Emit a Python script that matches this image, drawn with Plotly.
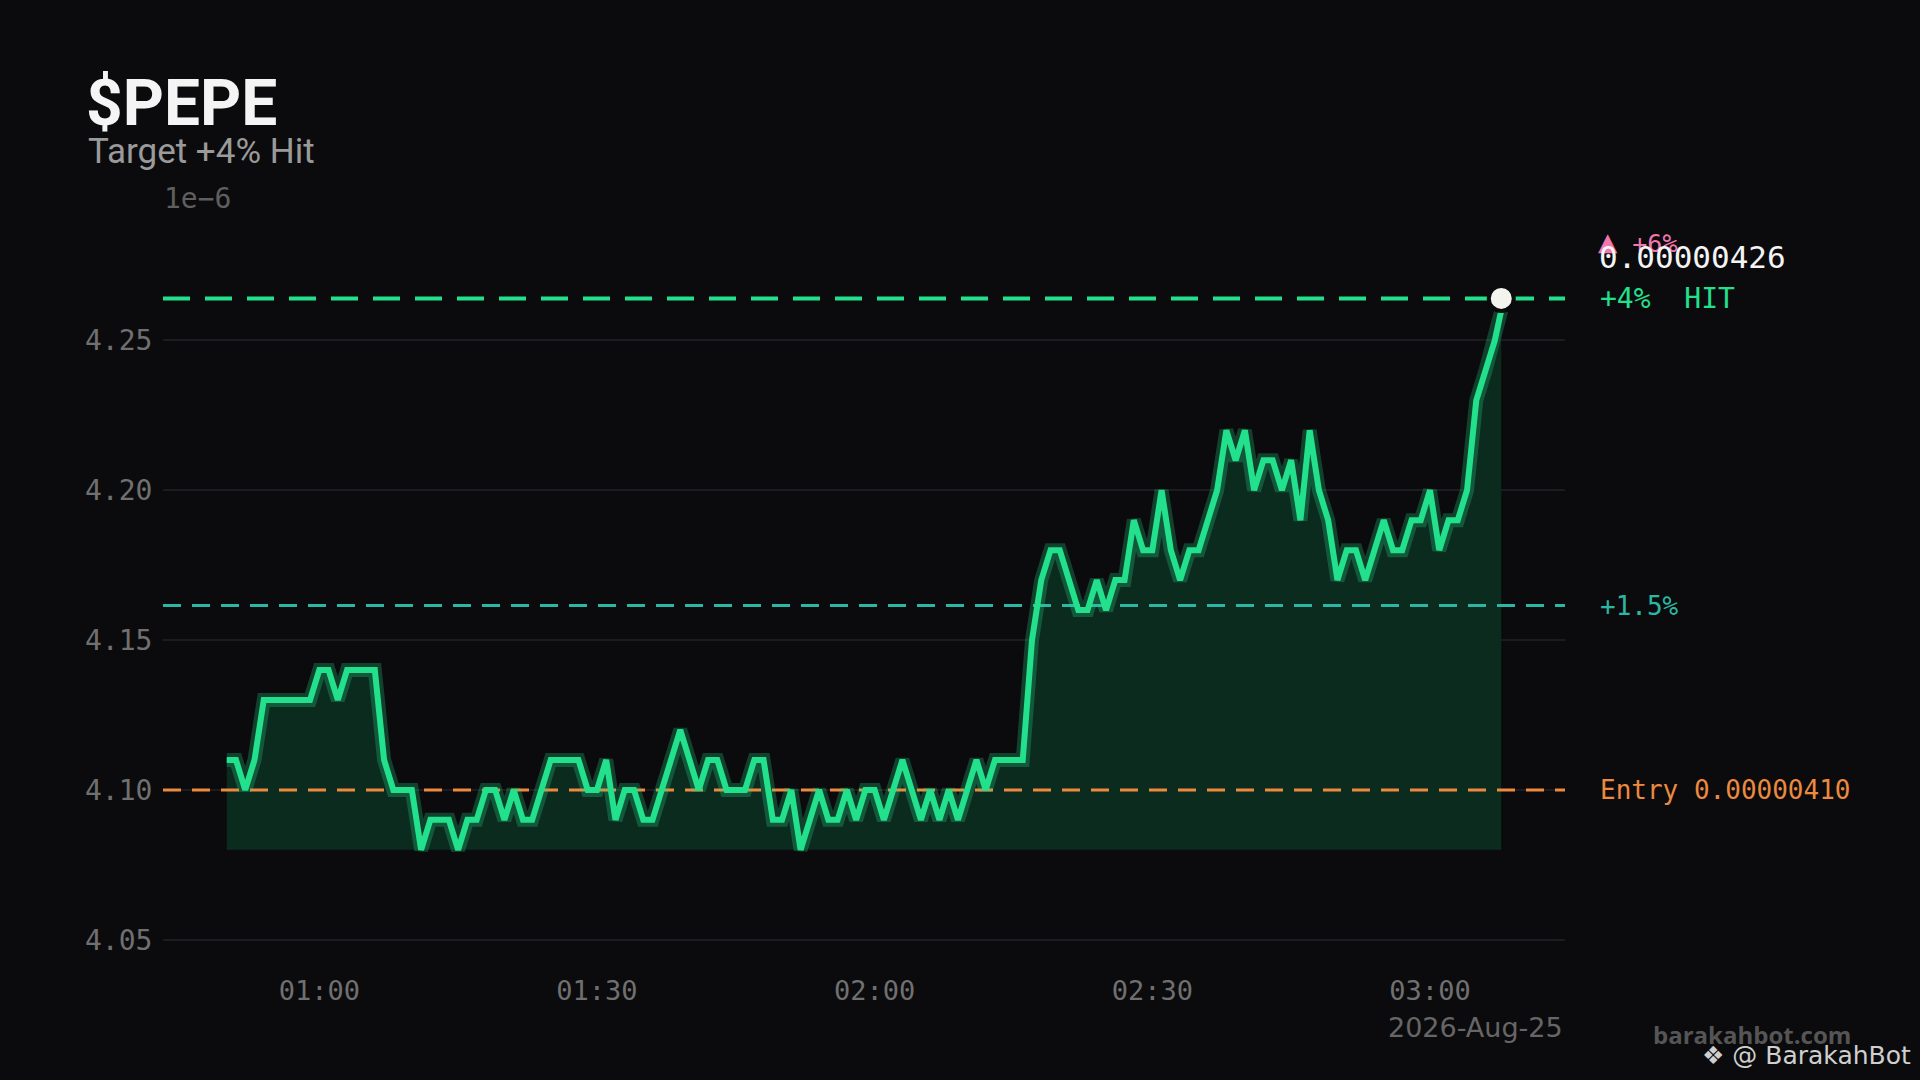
import pandas as pd
import plotly.graph_objects as go

# ---------------- data (prices in units of 1e-6) ----------------
start_time = "2026-08-25 00:50:00"
minute_offsets = list(range(0, 138)) + [137.7]
prices = [
    4.11, 4.11, 4.10, 4.11, 4.13, 4.13, 4.13, 4.13, 4.13, 4.13,
    4.14, 4.14, 4.13, 4.14, 4.14, 4.14, 4.14, 4.11, 4.10, 4.10,
    4.10, 4.08, 4.09, 4.09, 4.09, 4.08, 4.09, 4.09, 4.10, 4.10,
    4.09, 4.10, 4.09, 4.09, 4.10, 4.11, 4.11, 4.11, 4.11, 4.10,
    4.10, 4.11, 4.09, 4.10, 4.10, 4.09, 4.09, 4.10, 4.11, 4.12,
    4.11, 4.10, 4.11, 4.11, 4.10, 4.10, 4.10, 4.11, 4.11, 4.09,
    4.09, 4.10, 4.08, 4.09, 4.10, 4.09, 4.09, 4.10, 4.09, 4.10,
    4.10, 4.09, 4.10, 4.11, 4.10, 4.09, 4.10, 4.09, 4.10, 4.09,
    4.10, 4.11, 4.10, 4.11, 4.11, 4.11, 4.11, 4.15, 4.17, 4.18,
    4.18, 4.17, 4.16, 4.16, 4.17, 4.16, 4.17, 4.17, 4.19, 4.18,
    4.18, 4.20, 4.18, 4.17, 4.18, 4.18, 4.19, 4.20, 4.22, 4.21,
    4.22, 4.20, 4.21, 4.21, 4.20, 4.21, 4.19, 4.22, 4.20, 4.19,
    4.17, 4.18, 4.18, 4.17, 4.18, 4.19, 4.18, 4.18, 4.19, 4.19,
    4.20, 4.18, 4.19, 4.19, 4.20, 4.23, 4.24, 4.25, 4.26,
]
entry_price = 4.10
target_pcts = [1.5, 4.0, 6.0]
ytick_vals = [4.05, 4.10, 4.15, 4.20, 4.25]
ytick_text = ["4.05", "4.10", "4.15", "4.20", "4.25"]
xtick_times = ["2026-08-25 01:00", "2026-08-25 01:30", "2026-08-25 02:00",
               "2026-08-25 02:30", "2026-08-25 03:00"]
xtick_text = ["01:00", "01:30", "02:00", "02:30", "03:00"]
last_price_text = "0.00000426"
entry_text = "0.00000410"

# ---------------- derived ----------------
t0 = pd.Timestamp(start_time)
times = [t0 + pd.Timedelta(minutes=m) for m in minute_offsets]
t1_level = entry_price * (1 + target_pcts[0] / 100)
t2_level = entry_price * (1 + target_pcts[1] / 100)
base_level = min(prices)

span = times[-1] - times[0]
x_range = [times[0] - span * 0.05, times[-1] + span * 0.05]

# layout geometry (pixels)
W, H = 1920, 1080
L, R, T, B = 163, 355, 210, 115
plot_h = H - T - B
px_per_unit = 2996.5
y_at_425 = 340.4
y_top = 4.25 + (y_at_425 - T) / px_per_unit
y_bot = 4.25 - (H - B - y_at_425) / px_per_unit

BG = "#0b0b0d"
GREEN = "#22e08c"
TEAL = "#2bb7a3"
ORANGE = "#ec8a3f"
PINK = "#f077b0"
MONO = "DejaVu Sans Mono"


def py(px):
    return (H - B - px) / plot_h


def pxx(px):
    return (px - L) / (W - L - R)


fig = go.Figure()
fig.add_trace(go.Scatter(x=times, y=[base_level] * len(times), mode="lines",
                         line=dict(width=0), hoverinfo="skip", showlegend=False))
fig.add_trace(go.Scatter(x=times, y=prices, mode="lines", fill="tonexty",
                         fillcolor="#0c2b1f", line=dict(width=0),
                         hoverinfo="skip", showlegend=False))

# reference lines (drawn above the fill, below the price line)
for level, color, width, dash in [
    (entry_price, ORANGE, 3, "18px,11px"),
    (t1_level, TEAL, 3, "18px,11px"),
    (t2_level, GREEN, 4, "27px,15px"),
]:
    fig.add_trace(go.Scatter(x=x_range, y=[level, level], mode="lines",
                             line=dict(color=color, width=width, dash=dash),
                             hoverinfo="skip", showlegend=False))

fig.add_trace(go.Scatter(x=times, y=prices, mode="lines",
                         line=dict(color="rgba(34,224,140,0.25)", width=14),
                         hoverinfo="skip", showlegend=False))
fig.add_trace(go.Scatter(x=times, y=prices, mode="lines",
                         line=dict(color=GREEN, width=6),
                         showlegend=False))
fig.add_trace(go.Scatter(x=[times[-1]], y=[t2_level], mode="markers",
                         marker=dict(size=25, color="#f4f4ef",
                                     line=dict(color=BG, width=4)),
                         showlegend=False))

ann = []
# title
ann.append(dict(text="<b>$PEPE</b>", x=pxx(84), y=py(104), xref="paper", yref="paper",
                xanchor="left", yanchor="middle", showarrow=False,
                font=dict(family="Roboto", size=64, color="#f4f4f4")))
ann.append(dict(text="Target +4% Hit", x=pxx(86), y=py(152), xref="paper", yref="paper",
                xanchor="left", yanchor="middle", showarrow=False,
                font=dict(family="Roboto", size=35, color="#9a9a9a")))
ann.append(dict(text="1e\u22126", x=pxx(162), y=py(198), xref="paper", yref="paper",
                xanchor="left", yanchor="middle", showarrow=False,
                font=dict(family=MONO, size=28, color="#5f5f5f")))
# right labels
ann.append(dict(text="<span style='font-size:32px'>▲</span> +6%", x=pxx(1596), y=py(241),
                xref="paper", yref="paper",
                xanchor="left", yanchor="middle", showarrow=False,
                font=dict(family=MONO, size=25, color=PINK)))
ann.append(dict(text=last_price_text, x=pxx(1597), y=py(257), xref="paper", yref="paper",
                xanchor="left", yanchor="middle", showarrow=False,
                font=dict(family=MONO, size=31, color="#f4f4f4")))
ann.append(dict(text="+4%  HIT", x=pxx(1598), y=t2_level, xref="paper", yref="y",
                xanchor="left", yanchor="middle", showarrow=False,
                font=dict(family=MONO, size=28, color=GREEN)))
ann.append(dict(text="+1.5%", x=pxx(1598), y=t1_level, xref="paper", yref="y",
                xanchor="left", yanchor="middle", showarrow=False,
                font=dict(family=MONO, size=26, color=TEAL)))
ann.append(dict(text="Entry " + entry_text, x=pxx(1598), y=entry_price, xref="paper", yref="y",
                xanchor="left", yanchor="middle", showarrow=False,
                font=dict(family=MONO, size=26, color=ORANGE)))
# footer
ann.append(dict(text="2026-Aug-25", x=pxx(1565), y=py(1027), xref="paper", yref="paper",
                xanchor="right", yanchor="middle", showarrow=False,
                font=dict(family="DejaVu Sans", size=27, color="#666666")))
ann.append(dict(text="<b>barakahbot.com</b>", x=pxx(1853), y=py(1034), xref="paper", yref="paper",
                xanchor="right", yanchor="middle", showarrow=False,
                font=dict(family="Open Sans", size=24, color="#555555")))
ann.append(dict(text="❖ @ BarakahBot", x=pxx(1913), y=py(1055), xref="paper", yref="paper",
                xanchor="right", yanchor="middle", showarrow=False,
                font=dict(family="DejaVu Sans", size=25, color="#cfcfcf")))

fig.update_layout(
    width=W, height=H,
    paper_bgcolor=BG, plot_bgcolor=BG,
    margin=dict(l=L, r=R, t=T, b=B, pad=0),
    showlegend=False,
    annotations=ann,
    xaxis=dict(type="date", range=x_range, showgrid=False, zeroline=False,
               showline=False, tickvals=xtick_times, ticktext=xtick_text,
               ticks="outside", ticklen=2, tickcolor=BG,
               tickfont=dict(family=MONO, size=27, color="#707070")),
    yaxis=dict(range=[y_bot, y_top], showgrid=True, gridcolor="#1c1c20", gridwidth=2,
               zeroline=False, showline=False, tickvals=ytick_vals, ticktext=ytick_text,
               ticks="outside", ticklen=4, tickcolor=BG,
               tickfont=dict(family=MONO, size=28, color="#707070")),
)

fig.write_html(
    "out.html",
    config={"displayModeBar": False},
    post_script="document.body.style.margin='0';document.body.style.background='%s';" % BG,
)
